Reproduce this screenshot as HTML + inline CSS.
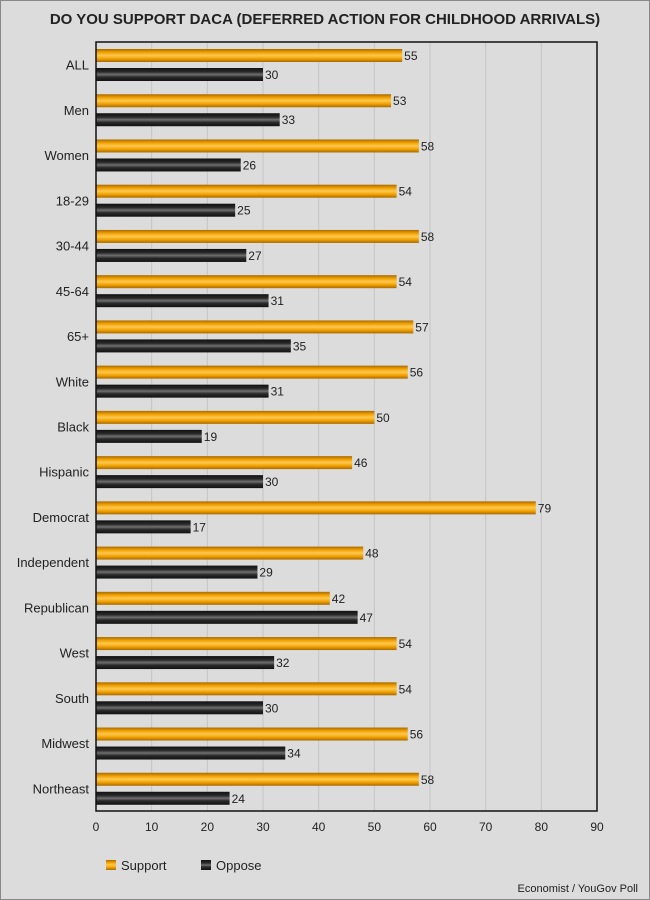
<!DOCTYPE html>
<html><head><meta charset="utf-8"><style>
html,body{margin:0;padding:0;background:#dcdcdc;}
svg{display:block;font-family:"Liberation Sans",sans-serif;}
</style></head><body>
<svg id="chart" width="650" height="900">
<defs>
<linearGradient id="gO" x1="0" y1="0" x2="0" y2="1">
<stop offset="0" stop-color="#a86a00"/><stop offset="0.25" stop-color="#f0a000"/><stop offset="0.5" stop-color="#ffc850"/><stop offset="0.75" stop-color="#f0a000"/><stop offset="1" stop-color="#a86a00"/></linearGradient>
<linearGradient id="gK" x1="0" y1="0" x2="0" y2="1">
<stop offset="0" stop-color="#111"/><stop offset="0.3" stop-color="#2a2a2a"/><stop offset="0.5" stop-color="#707070"/><stop offset="0.7" stop-color="#2a2a2a"/><stop offset="1" stop-color="#111"/></linearGradient>
</defs>
<rect x="0.5" y="0.5" width="649" height="899" fill="#dcdcdc" stroke="#888"/>
<text x="325" y="24" text-anchor="middle" font-size="15" font-weight="bold" fill="#222">DO YOU SUPPORT DACA (DEFERRED ACTION FOR CHILDHOOD ARRIVALS)</text>
<g id="grid"></g><g id="bars"></g><g id="axes"></g>
<g>
<rect x="106" y="860" width="10" height="10" fill="url(#gO)"/>
<text x="121" y="870" font-size="13" fill="#222">Support</text>
<rect x="201" y="860" width="10" height="10" fill="url(#gK)"/>
<text x="216" y="870" font-size="13" fill="#222">Oppose</text>
</g>
<text x="638" y="892" text-anchor="end" font-size="11" fill="#222">Economist / YouGov Poll</text>
</svg>
<script>
const categories=["ALL","Men","Women","18-29","30-44","45-64","65+","White","Black","Hispanic","Democrat","Independent","Republican","West","South","Midwest","Northeast"];
const support=[55,53,58,54,58,54,57,56,50,46,79,48,42,54,54,56,58];
const oppose=[30,33,26,25,27,31,35,31,19,30,17,29,47,32,30,34,24];
const ticks=[0,10,20,30,40,50,60,70,80,90];
const NS="http://www.w3.org/2000/svg";
const L=96,R=597,T=42,B=811;
const x=v=>L+(v/90)*(R-L);
const band=(B-T)/categories.length;
function mk(tag,attrs,parent,txt){const e=document.createElementNS(NS,tag);for(const k in attrs)e.setAttribute(k,attrs[k]);if(txt!==undefined)e.textContent=txt;parent.appendChild(e);return e;}
const grid=document.getElementById('grid'),bars=document.getElementById('bars'),axes=document.getElementById('axes');
ticks.forEach(t=>{
 const g=mk('line',{x1:x(t),x2:x(t),y1:T,y2:B,stroke:'#c4c4c4'},grid);
 
 
 const l=mk('text',{x:x(t),y:B+20,'text-anchor':'middle','font-size':12,fill:'#222'},axes,t);
 
 
});
categories.forEach((c,i)=>{
 const y0=T+i*band;
 const lb=mk('text',{x:L-7,y:y0+band/2+5,'text-anchor':'end','font-size':13,fill:'#222'},axes,c);
 
 
 const b1=mk('rect',{x:L,y:y0+7,width:x(support[i])-L,height:13,fill:'url(#gO)'},bars);
 
 
 const t1=mk('text',{x:x(support[i])+2,y:y0+18,'font-size':12,fill:'#222'},bars,support[i]);
 
 
 const b2=mk('rect',{x:L,y:y0+26,width:x(oppose[i])-L,height:13,fill:'url(#gK)'},bars);
 
 
 const t2=mk('text',{x:x(oppose[i])+2,y:y0+37,'font-size':12,fill:'#222'},bars,oppose[i]);
 
 
});
const fr=mk('rect',{x:L,y:T,width:R-L,height:B-T,fill:'none',stroke:'#111','stroke-width':1.5},axes);


</script>
</body></html>
